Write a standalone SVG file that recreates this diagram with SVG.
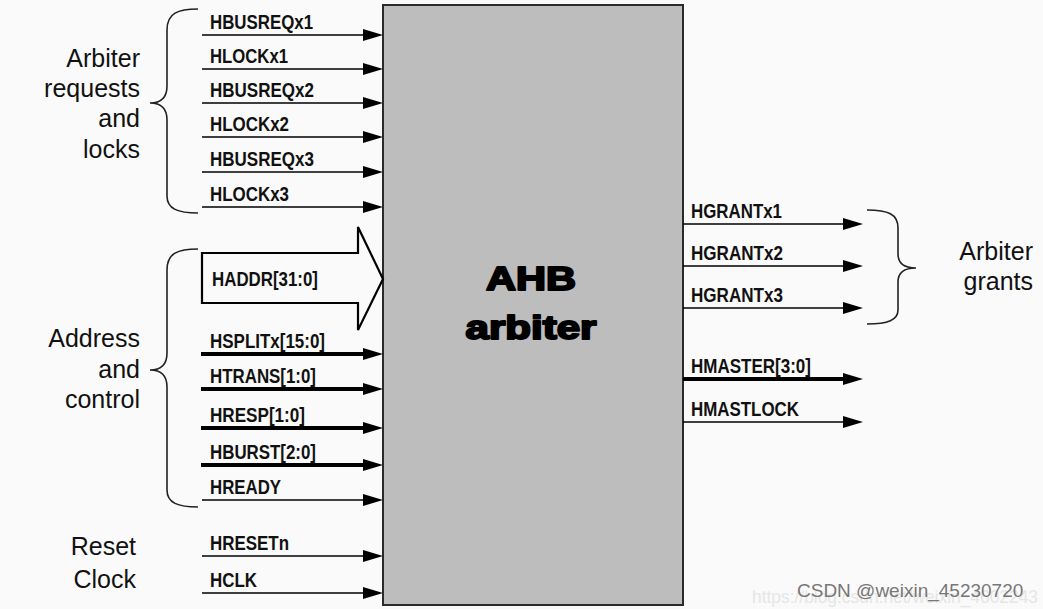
<svg xmlns="http://www.w3.org/2000/svg" width="1043" height="609" viewBox="0 0 1043 609">
  <defs>
    <marker id="ah" markerUnits="userSpaceOnUse" markerWidth="20" markerHeight="12" refX="0" refY="6" orient="auto" overflow="visible">
      <path d="M0,0 L20,6 L0,12 z" fill="#000"/>
    </marker>
  </defs>
  <style>
    .sig { font-family: "Liberation Sans Narrow", "Liberation Sans", Arial, sans-serif; font-weight: bold; font-size: 19.5px; fill: #111; }
    .grp { font-family: "Liberation Sans", Arial, sans-serif; font-size: 25px; fill: #111; }
    .thin { stroke: #000; stroke-width: 1.6; fill: none; marker-end: url(#ah); }
    .thick { stroke: #000; stroke-width: 4; fill: none; marker-end: url(#ah); }
    .brace { stroke: #222; stroke-width: 1.6; fill: none; }
    .title { font-family: "Liberation Sans", Arial, sans-serif; font-weight: bold; font-size: 33px; fill: #000; stroke: #000; stroke-width: 2; stroke-linejoin: round; text-anchor: middle; }
  </style>
  <rect width="1043" height="609" fill="#fafafa"/>

  <g id="arbiter">
    <rect x="383" y="5" width="300" height="600" fill="#bdbdbd" stroke="#2a2a2a" stroke-width="2"/>
    <text class="title" x="531" y="290" textLength="90" lengthAdjust="spacingAndGlyphs">AHB</text>
    <text class="title" x="531" y="339" textLength="131" lengthAdjust="spacingAndGlyphs">arbiter</text>
  </g>

  <g id="group-labels">
    <g id="label-requests" class="grp" text-anchor="end">
      <text x="140" y="67">Arbiter</text>
      <text x="140" y="97">requests</text>
      <text x="140" y="127">and</text>
      <text x="140" y="158">locks</text>
    </g>
    <g id="label-address" class="grp" text-anchor="end">
      <text x="140" y="347">Address</text>
      <text x="140" y="378">and</text>
      <text x="140" y="408">control</text>
    </g>
    <g id="label-reset" class="grp" text-anchor="end">
      <text x="136" y="555">Reset</text>
      <text x="136" y="588">Clock</text>
    </g>
    <g id="label-grants" class="grp" text-anchor="end">
      <text x="1033" y="260">Arbiter</text>
      <text x="1033" y="290">grants</text>
    </g>
  </g>

  <g id="braces">
    <path class="brace" d="M198,9 C178,9 167,13 167,30 L167,86 C167,97 161,103 150,103 C161,103 167,109 167,120 L167,196 C167,209 178,213 198,213"/>
    <path class="brace" d="M198,249 C178,249 167,253 167,270 L167,353 C167,364 161,370 150,370 C161,370 167,376 167,387 L167,490 C167,503 178,507 198,507"/>
    <path class="brace" d="M867,210 C888,210 898,214 898,228 L898,254 C898,263 904,268 916,268 C904,268 898,273 898,282 L898,310 C898,320 888,324 867,324"/>
  </g>

  <g id="connectors">
    <line class="thin" x1="202" y1="35" x2="363" y2="35"/>
    <line class="thin" x1="202" y1="69" x2="363" y2="69"/>
    <line class="thin" x1="202" y1="103" x2="363" y2="103"/>
    <line class="thin" x1="202" y1="137" x2="363" y2="137"/>
    <line class="thin" x1="202" y1="172" x2="363" y2="172"/>
    <line class="thin" x1="202" y1="207" x2="363" y2="207"/>
    <path id="haddr-arrow" d="M202,253 L358,253 L358,227 L383,279 L358,330 L358,303 L202,303 z" fill="#fafafa" stroke="#000" stroke-width="2.2" stroke-linejoin="miter"/>
    <line class="thick" x1="201" y1="354" x2="363" y2="354"/>
    <line class="thick" x1="201" y1="389" x2="363" y2="389"/>
    <line class="thick" x1="201" y1="428" x2="363" y2="428"/>
    <line class="thick" x1="201" y1="465" x2="363" y2="465"/>
    <line class="thin" x1="202" y1="500" x2="363" y2="500"/>
    <line class="thin" x1="202" y1="556" x2="363" y2="556"/>
    <line class="thin" x1="202" y1="593" x2="363" y2="593"/>
    <line class="thin" x1="683" y1="224" x2="843" y2="224"/>
    <line class="thin" x1="683" y1="266" x2="843" y2="266"/>
    <line class="thin" x1="683" y1="308" x2="843" y2="308"/>
    <line class="thick" x1="683" y1="379" x2="843" y2="379"/>
    <line class="thin" x1="683" y1="422" x2="843" y2="422"/>
  </g>

  <g id="signal-labels" class="sig">
    <text x="210" y="29" textLength="103" lengthAdjust="spacingAndGlyphs">HBUSREQx1</text>
    <text x="210" y="63" textLength="78" lengthAdjust="spacingAndGlyphs">HLOCKx1</text>
    <text x="210" y="97" textLength="104" lengthAdjust="spacingAndGlyphs">HBUSREQx2</text>
    <text x="210" y="131" textLength="79" lengthAdjust="spacingAndGlyphs">HLOCKx2</text>
    <text x="210" y="166" textLength="104" lengthAdjust="spacingAndGlyphs">HBUSREQx3</text>
    <text x="210" y="201" textLength="79" lengthAdjust="spacingAndGlyphs">HLOCKx3</text>
    <text x="212" y="286" textLength="106" lengthAdjust="spacingAndGlyphs">HADDR[31:0]</text>
    <text x="210" y="348" textLength="115" lengthAdjust="spacingAndGlyphs">HSPLITx[15:0]</text>
    <text x="210" y="383" textLength="106" lengthAdjust="spacingAndGlyphs">HTRANS[1:0]</text>
    <text x="210" y="422" textLength="95" lengthAdjust="spacingAndGlyphs">HRESP[1:0]</text>
    <text x="210" y="459" textLength="106" lengthAdjust="spacingAndGlyphs">HBURST[2:0]</text>
    <text x="210" y="494" textLength="71" lengthAdjust="spacingAndGlyphs">HREADY</text>
    <text x="210" y="550" textLength="79" lengthAdjust="spacingAndGlyphs">HRESETn</text>
    <text x="210" y="587" textLength="47" lengthAdjust="spacingAndGlyphs">HCLK</text>
    <text x="691" y="218" textLength="91" lengthAdjust="spacingAndGlyphs">HGRANTx1</text>
    <text x="691" y="260" textLength="92" lengthAdjust="spacingAndGlyphs">HGRANTx2</text>
    <text x="691" y="302" textLength="92" lengthAdjust="spacingAndGlyphs">HGRANTx3</text>
    <text x="691" y="373" textLength="120" lengthAdjust="spacingAndGlyphs">HMASTER[3:0]</text>
    <text x="691" y="416" textLength="108" lengthAdjust="spacingAndGlyphs">HMASTLOCK</text>
  </g>

  <g id="watermark" font-family="Liberation Sans, Arial, sans-serif">
    <text x="752" y="603" fill="#e6e6e6" font-size="19px" textLength="286" lengthAdjust="spacingAndGlyphs">https://blog.csdn.net/weixin_4602243</text>
    <text x="797" y="597" fill="#777" font-size="19px">CSDN @weixin_45230720</text>
  </g>
</svg>
